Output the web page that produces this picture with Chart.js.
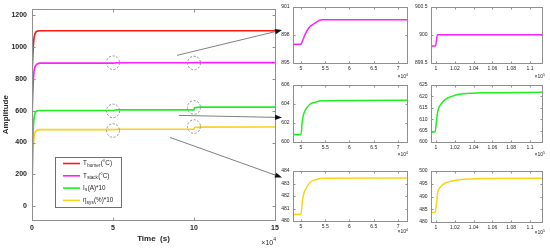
<!DOCTYPE html>
<html><head><meta charset="utf-8">
<script src="https://cdn.jsdelivr.net/npm/chart.js@4/dist/chart.umd.min.js"></script>
<style>
html,body{margin:0;padding:0;background:#fff;}
#wrap{position:relative;width:550px;height:248px;overflow:hidden;background:#fff;}
#wrap canvas{position:absolute;left:0;top:0;}
</style></head><body>
<div id="wrap">
<canvas id="main" width="550" height="248"></canvas>
<canvas id="insA" width="550" height="248"></canvas>
<canvas id="insB" width="550" height="248"></canvas>
<canvas id="insC" width="550" height="248"></canvas>
<canvas id="insD" width="550" height="248"></canvas>
<canvas id="insE" width="550" height="248"></canvas>
<canvas id="insF" width="550" height="248"></canvas>
</div>
<script>
// ---------- DATA (time in s, value) ----------
const mainXTicks = [0, 50000, 100000, 150000];
const mainYTicks = [0, 200, 400, 600, 800, 1000, 1200];

const burnerMain = [[0,820],[300,900],[700,990],[1200,1050],[1800,1080],[2500,1093],[3500,1098],[5000,1100],[150000,1100]];
const stackMain = [[0,560],[300,660],[700,770],[1200,840],[1800,872],[2500,886],[3500,894],[5000,897],[50000,897],[51900,898.9],[54300,899.6],[99900,899.8],[100200,900],[150000,900]];
const currentMain = [[0,150],[300,330],[700,470],[1200,550],[1800,580],[2500,594],[3500,599],[5000,600.8],[50000,600.8],[51900,604],[54300,604.35],[99900,604.4],[100300,615],[101000,618.7],[103800,621.4],[150000,621.8]];
const effMain = [[0,40],[300,220],[700,360],[1200,430],[1800,460],[2500,473],[3500,478.5],[5000,480.5],[50000,480.55],[51900,483.1],[54300,483.42],[99900,483.7],[100300,492.8],[101000,495.3],[103800,496.9],[150000,497.2]];

const col1XTicks = [50000, 55000, 60000, 65000, 70000];
const col2XTicks = [100000, 102000, 104000, 106000, 108000, 110000];

const stackInset1 = [[48360,897],[50000,897],[50500,897.6],[51000,898.2],[51900,898.9],[52500,899.1],[54300,899.6],[71850,899.6]];
const stackInset1YTicks = [895, 898, 901];
const stackInset2 = [[99468,899.8],[99950,899.8],[100150,900],[111277,900]];
const stackInset2YTicks = [899.5, 900, 900.5];

const currentInset1 = [[48360,600.8],[50000,600.8],[50300,602.3],[50600,603.0],[51200,603.6],[51900,604.0],[53000,604.2],[54300,604.35],[71850,604.4]];
const currentInset1YTicks = [600, 602, 604, 606];
const currentInset2 = [[99468,604.4],[99900,604.4],[100050,609],[100150,612.6],[100300,615],[100600,617],[101000,618.7],[101700,620],[102500,620.9],[103800,621.4],[105000,621.6],[111277,621.8]];
const currentInset2YTicks = [600, 605, 610, 615, 620, 625];

const effInset1 = [[48360,480.55],[50000,480.55],[50300,481.6],[50600,482.2],[51200,482.7],[51900,483.1],[53000,483.3],[54300,483.42],[71850,483.45]];
const effInset1YTicks = [480, 481, 482, 483, 484];
const effInset2 = [[99468,483.7],[99900,483.7],[100050,487],[100150,490.9],[100300,492.8],[100600,494.2],[101000,495.3],[101700,496.1],[102500,496.6],[103800,496.9],[105000,497.1],[111277,497.2]];
const effInset2YTicks = [480, 485, 490, 495, 500];

const legendMain = ['T', 'T', 'I', 'η'];
const legendSub = ['burner', 'stack', 's', 'sys'];
const legendTail = ['(°C)', '(°C)', '(A)*10', '(%)*10'];

const circleCenters = [[50000,900],[100000,898],[50000,598],[100000,620],[50000,475],[100000,500]];
const arrowStarts = [[89500,946],[90700,570],[85200,432]];

// ---------- STYLE ----------
const W = 550, H = 248;
const FONT = '"Liberation Sans", Arial, sans-serif';
const colors = ['#ff1a1a', '#ff1fff', '#1ef01e', '#ffd21a'];
const frameColor = '#8f8f8f';
const textColor = '#262626';

function ds(data, color, width){
  return {data: data.map(p => ({x:p[0], y:p[1]})), borderColor: color, borderWidth: width,
          pointRadius: 0, fill: false, cubicInterpolationMode: 'monotone'};
}

function drawExp(ctx, right, y, size, bold, sup){
  const f1 = (bold ? 'bold ' : '') + size + 'px ' + FONT;
  const f2 = (bold ? 'bold ' : '') + (size*0.72) + 'px ' + FONT;
  ctx.font = f2; const sw = ctx.measureText(sup).width;
  ctx.font = f1; const bw = ctx.measureText('×10').width;
  ctx.textAlign = 'left'; ctx.textBaseline = 'middle'; ctx.fillStyle = textColor;
  ctx.fillText('×10', right - sw - bw, y);
  ctx.font = f2; ctx.fillText(sup, right - sw, y - size*0.45);
}

const framePlugin = {
  id: 'frame',
  afterDraw(chart, args, o){
    const {ctx, chartArea:a} = chart;
    const x = chart.scales.x, y = chart.scales.y;
    ctx.save();
    ctx.strokeStyle = frameColor; ctx.lineWidth = 1;
    const L = Math.round(a.left)+0.5, T = Math.round(a.top)+0.5, R = Math.round(a.right)+0.5, B = Math.round(a.bottom)+0.5;
    ctx.strokeRect(L, T, R-L, B-T);
    ctx.beginPath();
    x.ticks.forEach(t => { const px = Math.round(x.getPixelForValue(t.value))+0.5;
      ctx.moveTo(px, B); ctx.lineTo(px, B - o.tick); ctx.moveTo(px, T); ctx.lineTo(px, T + o.tick); });
    y.ticks.forEach(t => { const py = Math.round(y.getPixelForValue(t.value))+0.5;
      ctx.moveTo(L, py); ctx.lineTo(L + o.tick, py); ctx.moveTo(R, py); ctx.lineTo(R - o.tick, py); });
    ctx.stroke();
    if (o.exp) drawExp(ctx, a.right + o.exp.dx, a.bottom + o.exp.dy, o.exp.size, o.exp.bold, o.exp.sup);
    ctx.restore();
  }
};

const annotPlugin = {
  id: 'annot',
  afterDraw(chart, args, o){
    const {ctx} = chart; const x = chart.scales.x, y = chart.scales.y;
    ctx.save();
    // dashed circles
    ctx.strokeStyle = '#8a8a8a'; ctx.lineWidth = 0.9; ctx.setLineDash([2.2, 1.6]);
    circleCenters.forEach(c => {
      ctx.beginPath(); ctx.ellipse(x.getPixelForValue(c[0]), y.getPixelForValue(c[1]), 6.5, 6.8, 0, 0, Math.PI*2); ctx.stroke();
    });
    ctx.setLineDash([]);
    // arrows
    arrowStarts.forEach((s, i) => {
      const x0 = x.getPixelForValue(s[0]), y0 = y.getPixelForValue(s[1]);
      const [x1, y1] = o.arrowEnds[i];
      const ang = Math.atan2(y1 - y0, x1 - x0);
      const hl = 7, hw = 2.6;
      const bx = x1 - hl*Math.cos(ang), by = y1 - hl*Math.sin(ang);
      ctx.strokeStyle = '#7f7f7f'; ctx.lineWidth = 1;
      ctx.beginPath(); ctx.moveTo(x0, y0); ctx.lineTo(bx, by); ctx.stroke();
      ctx.fillStyle = '#111';
      ctx.beginPath(); ctx.moveTo(x1, y1);
      ctx.lineTo(bx + hw*Math.sin(ang), by - hw*Math.cos(ang));
      ctx.lineTo(bx - hw*Math.sin(ang), by + hw*Math.cos(ang));
      ctx.closePath(); ctx.fill();
    });
    // legend
    const lg = o.legend;
    ctx.fillStyle = '#fff'; ctx.fillRect(lg.x, lg.y, lg.w, lg.h);
    ctx.strokeStyle = '#6f6f6f'; ctx.lineWidth = 1;
    ctx.strokeRect(lg.x + 0.5, lg.y + 0.5, lg.w, lg.h);
    legendMain.forEach((m, i) => {
      const ry = lg.y + lg.first + i*lg.step;
      ctx.strokeStyle = colors[i]; ctx.lineWidth = 1.6;
      ctx.beginPath(); ctx.moveTo(lg.x + 8, ry); ctx.lineTo(lg.x + 25, ry); ctx.stroke();
      let tx = lg.x + 28;
      ctx.fillStyle = textColor; ctx.textAlign = 'left'; ctx.textBaseline = 'middle';
      ctx.font = '6.3px ' + FONT; ctx.fillText(m, tx, ry); tx += ctx.measureText(m).width + 0.3;
      ctx.font = '4.6px ' + FONT; ctx.fillText(legendSub[i], tx, ry + 2); tx += ctx.measureText(legendSub[i]).width + 0.3;
      ctx.font = '6.3px ' + FONT; ctx.fillText(legendTail[i], tx, ry);
    });
    ctx.restore();
  }
};

function makeChart(id, spec){
  const b = spec.box;
  return new Chart(document.getElementById(id), {
    type: 'line',
    data: {datasets: spec.datasets},
    options: {
      responsive: false, animation: false, devicePixelRatio: 1,
      layout: {padding: {left: b.l - spec.yW, top: b.t, right: W - b.r, bottom: H - b.b - spec.xH}},
      plugins: {legend: {display: false}, tooltip: {enabled: false}, frame: spec.frame, annot: spec.annot || {}},
      scales: {
        x: {type: 'linear', min: spec.xMin, max: spec.xMax,
            grid: {display: false, drawTicks: false}, border: {display: false},
            afterBuildTicks: s => { s.ticks = spec.xTicks.map(v => ({value: v})); },
            afterFit: s => { s.height = spec.xH; },
            ticks: {autoSkip: false, maxRotation: 0, minRotation: 0, padding: spec.xPad, color: textColor, font: spec.tickFont, callback: spec.xFmt},
            title: spec.xTitle || {display: false}},
        y: {type: 'linear', min: spec.yMin, max: spec.yMax,
            grid: {display: false, drawTicks: false}, border: {display: false},
            afterBuildTicks: s => { s.ticks = spec.yTicks.map(v => ({value: v})); },
            afterFit: s => { s.width = spec.yW; },
            ticks: {autoSkip: false, padding: spec.yPad, color: textColor, font: spec.tickFont, callback: v => String(v)},
            title: spec.yTitle || {display: false}}
      }
    },
    plugins: [framePlugin].concat(spec.extra || [])
  });
}

// ---------- MAIN ----------
makeChart('main', {
  box: {l: 32, t: 5, r: 275, b: 220}, yW: 32, xH: 28,
  datasets: [ds(burnerMain, colors[0], 1.7), ds(stackMain, colors[1], 1.7), ds(currentMain, colors[2], 1.7), ds(effMain, colors[3], 1.7)],
  xMin: 0, xMax: 150000, xTicks: mainXTicks, xFmt: v => String(v/10000),
  yMin: -85, yMax: 1235, yTicks: mainYTicks,
  tickFont: {family: FONT, size: 7, weight: 'bold'}, xPad: 4, yPad: 5,
  xTitle: {display: true, text: 'Time  (s)', color: textColor, font: {family: FONT, size: 8, weight: 'bold'}, padding: {top: 0, bottom: 4}},
  yTitle: {display: true, text: 'Amplitude', color: textColor, font: {family: FONT, size: 8, weight: 'bold'}, padding: {top: 1, bottom: 0}},
  frame: {tick: 3, exp: {dx: 1, dy: 23, size: 7, bold: false, sup: '4'}},
  annot: {arrowEnds: [[282, 30], [282, 117.5], [282, 177.5]],
          legend: {x: 55, y: 157, w: 66, h: 50, first: 6.5, step: 12.3}},
  extra: [annotPlugin]
});

// ---------- INSETS ----------
const insetFont = {family: FONT, size: 5};
const fmt4 = v => String(v/10000);
const fmt5 = v => String(parseFloat((v/100000).toFixed(2)));
function inset(id, box, data, color, col, yMin, yMax, yTicks, expDy){
  makeChart(id, {
    box: box, yW: 26, xH: 20,
    datasets: [ds(data, color, 1.5)],
    xMin: col === 1 ? 48360 : 99468, xMax: col === 1 ? 71850 : 111277,
    xTicks: col === 1 ? col1XTicks : col2XTicks, xFmt: col === 1 ? fmt4 : fmt5,
    yMin: yMin, yMax: yMax, yTicks: yTicks,
    tickFont: insetFont, xPad: 2.5, yPad: 3.5,
    frame: {tick: 2, exp: {dx: col === 1 ? 1 : 3, dy: expDy, size: 5, bold: false, sup: col === 1 ? '4' : '5'}}
  });
}
inset('insA', {l: 293, t: 6, r: 407, b: 63}, stackInset1, colors[1], 1, 895, 901, stackInset1YTicks, 14);
inset('insB', {l: 431, t: 5, r: 542, b: 63}, stackInset2, colors[1], 2, 899.5, 900.5, stackInset2YTicks, 14);
inset('insC', {l: 293, t: 85, r: 407, b: 142}, currentInset1, colors[2], 1, 600, 606, currentInset1YTicks, 13);
inset('insD', {l: 431, t: 85, r: 542, b: 142}, currentInset2, colors[2], 2, 600, 625, currentInset2YTicks, 13);
inset('insE', {l: 293, t: 171, r: 407, b: 221}, effInset1, colors[3], 1, 480, 484, effInset1YTicks, 11);
inset('insF', {l: 431, t: 171, r: 542, b: 222}, effInset2, colors[3], 2, 480, 500, effInset2YTicks, 11);
</script>
</body></html>
